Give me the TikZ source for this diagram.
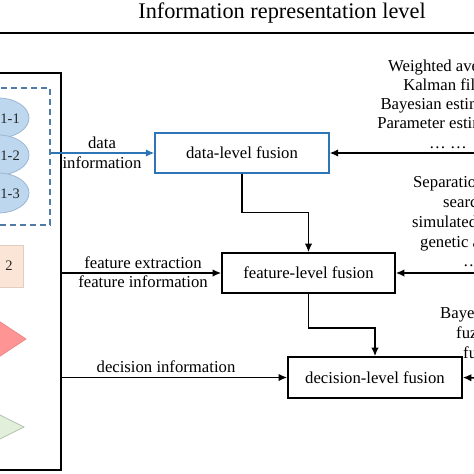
\documentclass[tikz,border=0pt]{standalone}
\usepackage{fontspec}
\setmainfont{Liberation Serif}
\usetikzlibrary{arrows.meta}
\definecolor{fblue}{HTML}{2E75B6}
\definecolor{dashblue}{HTML}{4F7BA6}
\definecolor{ellfill}{HTML}{BDD7EE}
\definecolor{elldraw}{HTML}{9CB6D3}
\definecolor{peach}{HTML}{FBE5D6}
\definecolor{peachd}{HTML}{E3CDBF}
\definecolor{redf}{HTML}{FF9494}
\definecolor{redd}{HTML}{EE8A8A}
\definecolor{greenf}{HTML}{E2EFDA}
\definecolor{greend}{HTML}{B3C3AC}
\begin{document}
\begin{tikzpicture}[x=1pt,y=-1pt,
  lab/.style={font=\fontsize{16.7}{19.3}\selectfont, inner sep=0pt},
  fbox/.style={draw, line width=1.7pt, minimum width=174pt, minimum height=40pt, inner sep=0pt, font=\fontsize{16.7}{19.3}\selectfont},
  arr/.style={line width=1.5pt, -{Latex[length=8.5pt,width=7.5pt]}},
  small/.style={font=\fontsize{14.5}{16}\selectfont, inner sep=0pt, text=black!85}]
\useasboundingbox (0,0) rectangle (474,474);
\clip (0,0) rectangle (474,474);
% title
\node[anchor=base, font=\fontsize{22.3}{26}\selectfont, inner sep=0pt] (title) at (282,18) {Information representation level};
\draw[line width=1.5pt] (0,33) -- (474,33);
% left panel
\node[draw, line width=1.8pt, minimum width=81pt, minimum height=397pt, inner sep=0pt] (lbox) at (20.5,271.5) {};
\draw[fill=ellfill, draw=elldraw, line width=0.8pt] (-2,118) ellipse [x radius=31, y radius=20];
\draw[fill=ellfill, draw=elldraw, line width=0.8pt] (-2,155) ellipse [x radius=31, y radius=20];
\draw[fill=ellfill, draw=elldraw, line width=0.8pt] (-2,193) ellipse [x radius=31, y radius=20];
\node[small, anchor=base east] (e1) at (20,123.5) {n1-1};
\node[small, anchor=base east] (e2) at (20,160.5) {n1-2};
\node[small, anchor=base east] (e3) at (20,198.5) {n1-3};
\node[draw=dashblue, dash pattern=on 6pt off 4pt, line width=1.3pt, minimum width=70pt, minimum height=137pt, inner sep=0pt] (dbox) at (15,156.5) {};
\draw[fill=peach, draw=peachd, line width=0.8pt] (-19,245) rectangle (23,287);
\node[small] (s2) at (9,266) {2};
\draw[fill=redf, draw=redd, line width=0.8pt] (-30,302) -- (26,339) -- (-30,376) -- cycle;
\draw[fill=greenf, draw=greend, line width=0.8pt] (-30,400) -- (24,427) -- (-30,454) -- cycle;
% fusion boxes
\node[fbox, draw=fblue, line width=1.4pt] (data) at (242,153) {data-level fusion};
\node[fbox, minimum width=173pt] (feat) at (308.5,273) {feature-level fusion};
\node[fbox, minimum height=41pt] (dec) at (375,377.5) {decision-level fusion};
% connectors
\draw[arr, fblue, line width=1.4pt] (dbox.east |- data.west) -- (data.west);
\draw[arr] (data.south) -- ++(0,39) -| (feat.north);
\draw[arr] (feat.south) -- ++(0,34) -| (dec.north);
\draw[arr] (lbox.east |- feat.west) -- (feat.west);
\draw[arr] (lbox.east |- dec.west) -- (dec.west);
\coordinate (r1) at (480,153);
\coordinate (r2) at (480,273);
\coordinate (r3) at (480,378);
\draw[arr] (r1) -- (data.east);
\draw[arr] (r2) -- (feat.east);
\draw[arr] (r3) -- (dec.east);
% labels
\node[lab, anchor=base] (l1) at (102,148) {data};
\node[lab, anchor=base] (l2) at (102,168) {information};
\node[lab, anchor=base] (l3) at (143,268) {feature extraction};
\node[lab, anchor=base] (l4) at (143,287) {feature information};
\node[lab, anchor=base] (l5) at (166,372) {decision information};
% right method lists
\node[lab, anchor=base] (m11) at (448,71) {Weighted average};
\node[lab, anchor=base] (m12) at (448,90.3) {Kalman filter};
\node[lab, anchor=base] (m13) at (448,109.6) {Bayesian estimation};
\node[lab, anchor=base] (m14) at (448,128.9) {Parameter estimation};
\node[lab, anchor=base] (m15) at (448,148) {… …};
\node[lab, anchor=base west] (m21) at (413,187) {Separation principle};
\node[lab, anchor=base west] (m22) at (443,207) {search tree};
\node[lab, anchor=base west] (m23) at (412,227) {simulated annealing};
\node[lab, anchor=base west] (m24) at (420,247) {genetic algorithm};
\node[lab, anchor=base west] (m25) at (463,266) {… …};
\node[lab, anchor=base west] (m31) at (440,318) {Bayesian inference};
\node[lab, anchor=base west] (m32) at (456,338) {fuzzy set theory};
\node[lab, anchor=base west] (m33) at (463,358) {fuzzy logic};
\end{tikzpicture}
\end{document}
